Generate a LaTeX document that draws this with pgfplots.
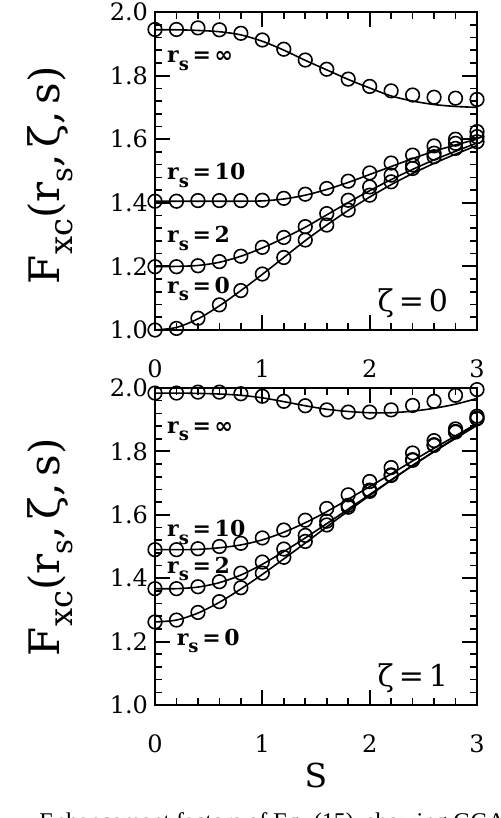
\documentclass[border=0pt]{standalone}
\usepackage{fontspec}
\setmainfont{DejaVu Serif}
\newfontfamily\capfont{Liberation Serif}
\newfontfamily\djsans{DejaVu Sans}
\usepackage{pgfplots}
\pgfplotsset{compat=1.18}

\newcommand{\rs}[1]{r\raisebox{-0.35em}{\fontsize{9}{10}\selectfont\bfseries s}\,=\,#1}
\newcommand{\infsym}{{\djsans\bfseries ∞}}
\newcommand{\Fxc}{{\fontsize{21}{25}\selectfont F\raisebox{-0.3em}{\fontsize{16}{18}\selectfont xc}(r\raisebox{-0.3em}{\fontsize{14.5}{16}\selectfont s},\,ζ,\,s)}}

\tikzset{
  lab/.style={anchor=base west, font=\fontsize{11}{13}\selectfont\bfseries, inner sep=0pt},
  zlab/.style={anchor=base west, font=\fontsize{15}{18}\selectfont, inner sep=0pt},
}
\pgfplotsset{
  panel/.style={
    scale only axis, width=161pt,
    xmin=0, xmax=3, ymin=1, ymax=2,
    xtick={0,1,2,3}, ytick={1,1.2,1.4,1.6,1.8,2},
    minor x tick num=4, minor y tick num=4,
    tick align=inside,
    major tick length=7.5pt, minor tick length=3.5pt,
    major tick style={line width=1pt, black},
    minor tick style={line width=0.8pt, black},
    axis line style={line width=1.2pt},
    /pgf/number format/assume math mode=true,
    tick label style={font=\fontsize{12}{14}\selectfont},
    yticklabel style={/pgf/number format/.cd, fixed, fixed zerofill, precision=1},
    xticklabel style={yshift=-11.5pt},
    clip=false,
  },
  gga/.style={black, line width=0.8pt, smooth, no marks},
  num/.style={black, only marks, mark=o, mark size=3.4pt, mark options={line width=0.8pt}},
}

\begin{document}
\begin{tikzpicture}
% ---------- top panel : zeta = 0 ----------
\begin{axis}[panel, height=159pt, at={(77.5pt,-6pt)}, anchor=north west,
  ylabel={\Fxc},
  every axis y label/.style={at={(rel axis cs:-0.326,0.487)}, rotate=90, anchor=center},
]
% r_s = infinity
\addplot[gga] coordinates {(0,1.944)(0.2,1.944)(0.4,1.942)(0.6,1.938)(0.8,1.928)(1.0,1.908)(1.2,1.880)(1.4,1.848)(1.6,1.818)(1.8,1.788)(2.0,1.761)(2.2,1.736)(2.4,1.720)(2.6,1.709)(2.8,1.703)(3.0,1.700)};
\addplot[num] coordinates {(0,1.945)(0.2,1.945)(0.4,1.950)(0.6,1.944)(0.8,1.933)(1.0,1.912)(1.2,1.883)(1.4,1.849)(1.6,1.820)(1.8,1.789)(2.0,1.766)(2.2,1.752)(2.4,1.739)(2.6,1.732)(2.8,1.729)(3.0,1.725)};
% r_s = 10
\addplot[gga] coordinates {(0,1.405)(0.2,1.405)(0.4,1.405)(0.6,1.405)(0.8,1.405)(1.0,1.406)(1.2,1.412)(1.4,1.424)(1.6,1.442)(1.8,1.464)(2.0,1.489)(2.2,1.514)(2.4,1.539)(2.6,1.562)(2.8,1.582)(3.0,1.600)};
\addplot[num] coordinates {(0,1.405)(0.2,1.405)(0.4,1.407)(0.6,1.407)(0.8,1.407)(1.0,1.408)(1.2,1.414)(1.4,1.427)(1.6,1.445)(1.8,1.468)(2.0,1.494)(2.2,1.525)(2.4,1.550)(2.6,1.579)(2.8,1.600)(3.0,1.624)};
% r_s = 2
\addplot[gga] coordinates {(0,1.199)(0.2,1.200)(0.4,1.203)(0.6,1.213)(0.8,1.232)(1.0,1.258)(1.2,1.289)(1.4,1.323)(1.6,1.362)(1.8,1.401)(2.0,1.438)(2.2,1.473)(2.4,1.505)(2.6,1.535)(2.8,1.562)(3.0,1.588)};
\addplot[num] coordinates {(0,1.199)(0.2,1.199)(0.4,1.202)(0.6,1.215)(0.8,1.232)(1.0,1.260)(1.2,1.291)(1.4,1.325)(1.6,1.366)(1.8,1.408)(2.0,1.450)(2.2,1.487)(2.4,1.519)(2.6,1.556)(2.8,1.587)(3.0,1.608)};
% r_s = 0
\addplot[gga] coordinates {(0,1.000)(0.2,1.008)(0.4,1.035)(0.6,1.076)(0.8,1.124)(1.0,1.175)(1.2,1.228)(1.4,1.281)(1.6,1.330)(1.8,1.376)(2.0,1.418)(2.2,1.457)(2.4,1.492)(2.6,1.524)(2.8,1.553)(3.0,1.580)};
\addplot[num] coordinates {(0,1.000)(0.2,1.005)(0.4,1.037)(0.6,1.079)(0.8,1.124)(1.0,1.176)(1.2,1.228)(1.4,1.283)(1.6,1.330)(1.8,1.377)(2.0,1.424)(2.2,1.466)(2.4,1.508)(2.6,1.545)(2.8,1.571)(3.0,1.592)};
\node[lab] at (axis cs:0.11,1.840) {\rs{\infsym}};
\node[lab] at (axis cs:0.11,1.472) {\rs{10}};
\node[lab] at (axis cs:0.11,1.274) {\rs{2}};
\node[lab] at (axis cs:0.11,1.116) {\rs{0}};
\node[zlab] at (axis cs:2.07,1.057) {ζ\,=\,0};
\end{axis}

% ---------- bottom panel : zeta = 1 ----------
\begin{axis}[panel, height=158.5pt, at={(77.5pt,-194pt)}, anchor=north west,
  ylabel={\Fxc},
  every axis y label/.style={at={(rel axis cs:-0.326,0.498)}, rotate=90, anchor=center},
  xlabel={S},
  every axis x label/.style={at={(rel axis cs:0.5,-0.221)}, anchor=center, font=\fontsize{16.5}{19}\selectfont},
]
% r_s = infinity
\addplot[gga] coordinates {(0,1.984)(0.2,1.984)(0.4,1.983)(0.6,1.981)(0.8,1.977)(1.0,1.969)(1.2,1.957)(1.4,1.944)(1.6,1.933)(1.8,1.926)(2.0,1.922)(2.2,1.922)(2.4,1.927)(2.6,1.936)(2.8,1.949)(3.0,1.967)};
\addplot[num] coordinates {(0,1.984)(0.2,1.984)(0.4,1.987)(0.6,1.987)(0.8,1.982)(1.0,1.974)(1.2,1.958)(1.4,1.944)(1.6,1.931)(1.8,1.924)(2.0,1.924)(2.2,1.931)(2.4,1.945)(2.6,1.958)(2.8,1.977)(3.0,1.995)};
% r_s = 10
\addplot[gga] coordinates {(0,1.490)(0.2,1.490)(0.4,1.491)(0.6,1.496)(0.8,1.505)(1.0,1.521)(1.2,1.545)(1.4,1.575)(1.6,1.610)(1.8,1.649)(2.0,1.689)(2.2,1.729)(2.4,1.770)(2.6,1.810)(2.8,1.849)(3.0,1.888)};
\addplot[num] coordinates {(0,1.490)(0.2,1.490)(0.4,1.493)(0.6,1.500)(0.8,1.510)(1.0,1.527)(1.2,1.552)(1.4,1.583)(1.6,1.620)(1.8,1.663)(2.0,1.705)(2.2,1.749)(2.4,1.795)(2.6,1.834)(2.8,1.871)(3.0,1.911)};
% r_s = 2
\addplot[gga] coordinates {(0,1.367)(0.2,1.367)(0.4,1.372)(0.6,1.386)(0.8,1.410)(1.0,1.444)(1.2,1.484)(1.4,1.527)(1.6,1.572)(1.8,1.618)(2.0,1.664)(2.2,1.710)(2.4,1.756)(2.6,1.800)(2.8,1.843)(3.0,1.885)};
\addplot[num] coordinates {(0,1.367)(0.2,1.367)(0.4,1.373)(0.6,1.389)(0.8,1.416)(1.0,1.451)(1.2,1.492)(1.4,1.535)(1.6,1.580)(1.8,1.630)(2.0,1.678)(2.2,1.726)(2.4,1.774)(2.6,1.821)(2.8,1.863)(3.0,1.905)};
% r_s = 0
\addplot[gga] coordinates {(0,1.262)(0.2,1.268)(0.4,1.290)(0.6,1.324)(0.8,1.366)(1.0,1.412)(1.2,1.461)(1.4,1.511)(1.6,1.562)(1.8,1.612)(2.0,1.661)(2.2,1.709)(2.4,1.755)(2.6,1.799)(2.8,1.841)(3.0,1.882)};
\addplot[num] coordinates {(0,1.262)(0.2,1.268)(0.4,1.292)(0.6,1.326)(0.8,1.370)(1.0,1.416)(1.2,1.466)(1.4,1.516)(1.6,1.568)(1.8,1.624)(2.0,1.674)(2.2,1.724)(2.4,1.772)(2.6,1.819)(2.8,1.861)(3.0,1.903)};
\node[lab] at (axis cs:0.11,1.858) {\rs{\infsym}};
\node[lab] at (axis cs:0.11,1.532) {\rs{10}};
\node[lab] at (axis cs:0.11,1.416) {\rs{2}};
\node[lab] at (axis cs:0.20,1.189) {\rs{0}};
\node[zlab] at (axis cs:2.07,1.058) {ζ\,=\,1};
\end{axis}

% caption, cut by the page edge as in the reference
\node[anchor=base east, inner sep=0pt, font=\capfont\fontsize{12}{14}\selectfont] at (3pt,-414.5pt) {1.};
\node[anchor=base west, inner sep=0pt, font=\capfont\fontsize{12}{14}\selectfont] at (19.5pt,-414.5pt) {Enhancement factors of Eq. (15), showing GGA};

\pgfresetboundingbox
\path[use as bounding box] (0,0) rectangle (250pt,-409pt);
\end{tikzpicture}
\end{document}
